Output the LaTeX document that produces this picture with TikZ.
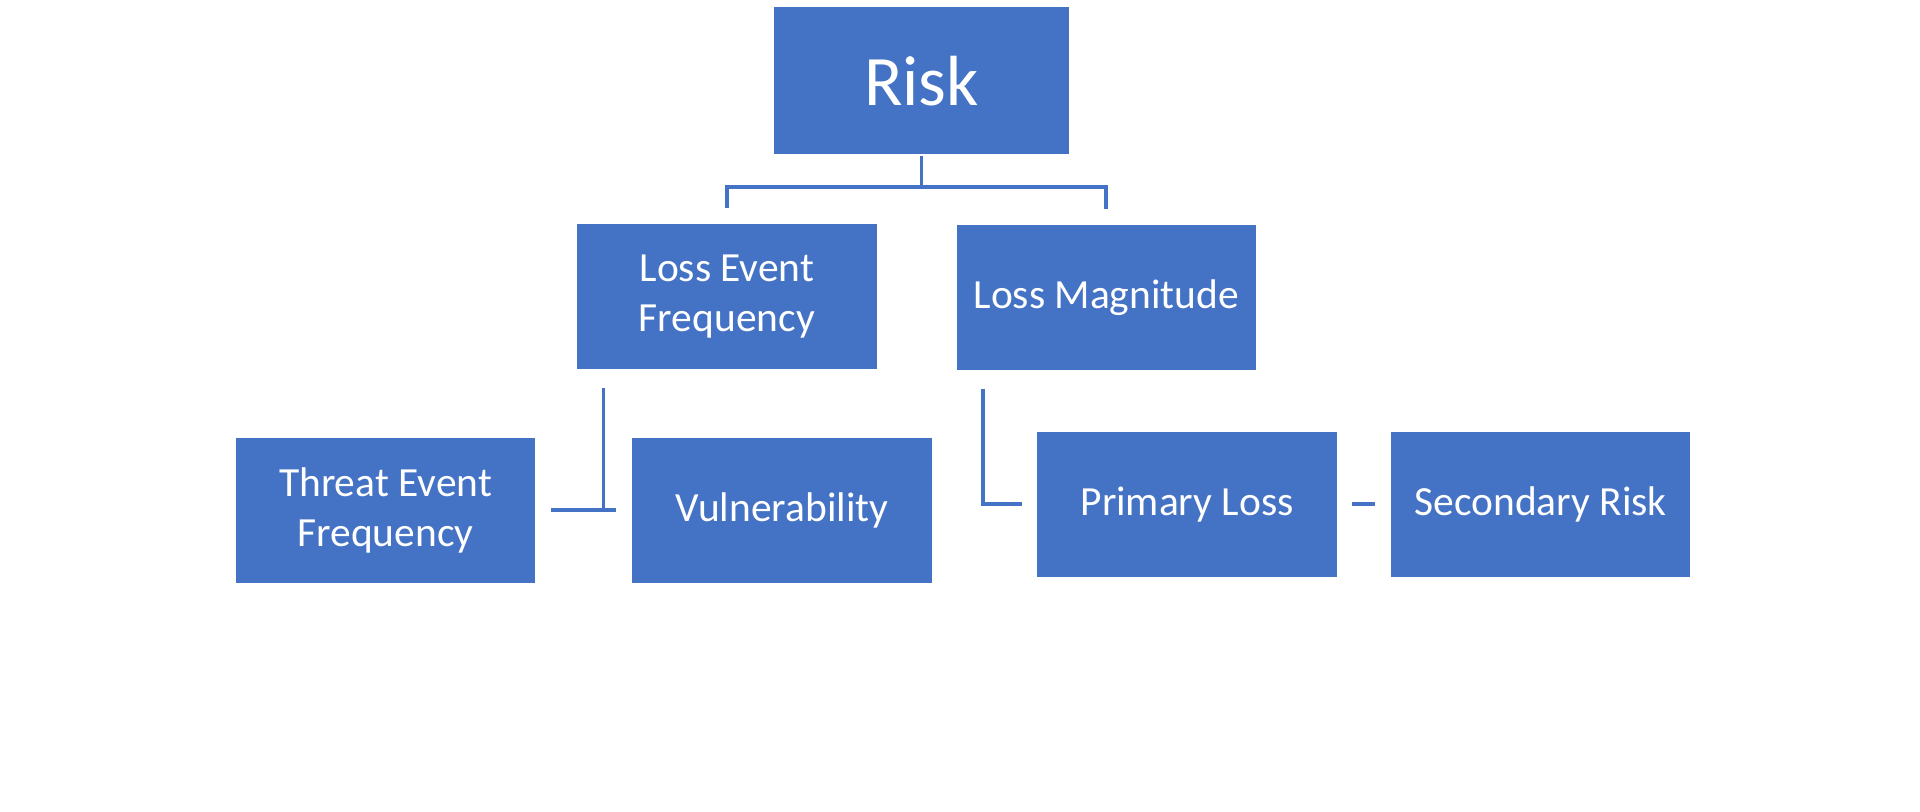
\documentclass[tikz,border=0pt]{standalone}
\usepackage{fontspec}
\setmainfont{Carlito}
\definecolor{boxblue}{HTML}{4472C4}
\begin{document}
\begin{tikzpicture}[
    x=0.012245cm, y=-0.012245cm,
    block/.style={fill=boxblue, draw=white, line width=0.5pt, text=white, minimum width=3.01cm, minimum height=1.47cm, align=center, font=\fontsize{11.8}{14.2}\selectfont, inner sep=2pt},
    link/.style={draw=boxblue, line width=1.05pt}
]
    \useasboundingbox (0cm,0cm) rectangle (19.2cm,-8.11cm);

    % Boxes
    \node[block, minimum width=2.96cm, minimum height=1.49cm, font=\fontsize{20.2}{23}\selectfont] (risk) at (753,66) {Risk};
    \node[block] (lef) at (594,242) {Loss Event\\Frequency};
    \node[block] (lm) at (904,243) {Loss Magnitude};
    \node[block] (tef) at (315,417) {Threat Event\\Frequency};
    \node[block, minimum width=3.02cm] (vuln) at (639,417) {Vulnerability};
    \node[block] (primary) at (970,412) {Primary Loss};
    \node[block] (secondary) at (1259,412) {Secondary Risk};

    % Connectors
    \coordinate (fork) at (753,153);
    \draw[link] (risk.south) -- (fork);
    \draw[link, shorten >=4pt] (fork) -| (lef.north);
    \draw[link, shorten >=4pt] (fork) -| (lm.north);
    \draw[link, shorten <=5pt, shorten >=4pt] ([xshift=0.28cm]lef.south west) |- (vuln.west);
    \draw[link, shorten <=4pt, shorten >=4pt] (tef.east) -- (vuln.west);
    \draw[link, shorten <=5pt, shorten >=4pt] ([xshift=0.28cm]lm.south west) |- (primary.west);
    \draw[link, shorten <=4pt, shorten >=4pt] (primary.east) -- (secondary.west);
\end{tikzpicture}
\end{document}
